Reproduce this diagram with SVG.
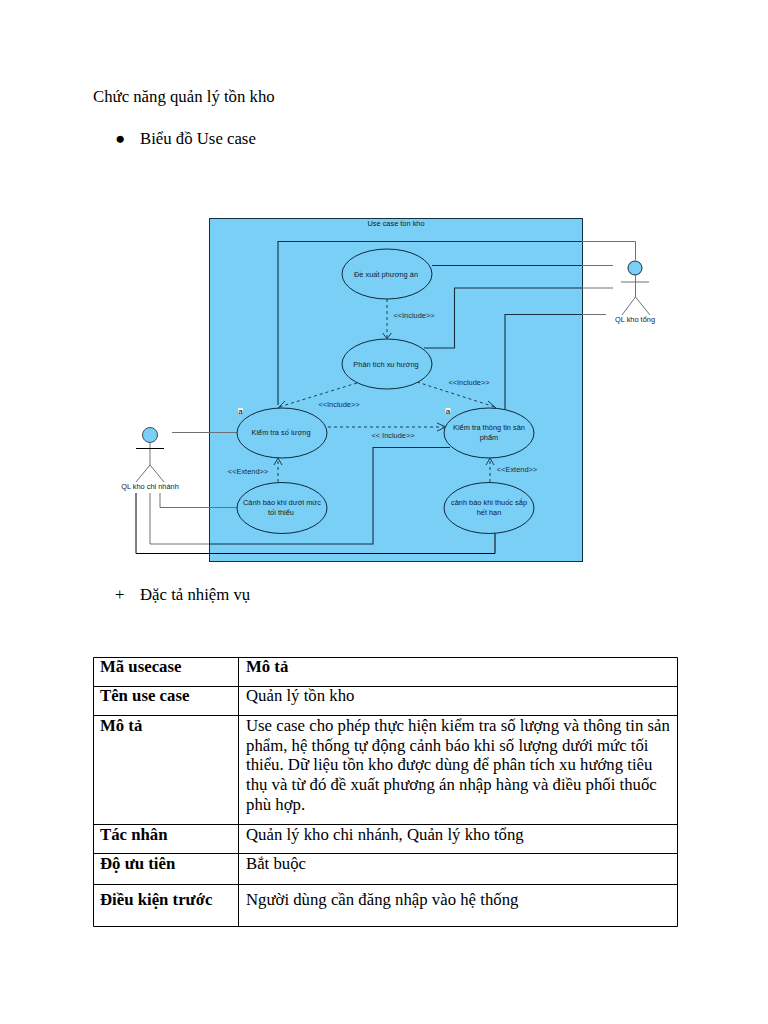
<svg xmlns="http://www.w3.org/2000/svg" width="768" height="1024" viewBox="0 0 768 1024">
<style>
.d{font-family:"Liberation Serif","Noto Serif",serif;font-size:16.75px;fill:#000}
.b{font-weight:bold}
.s{font-family:"Liberation Sans",Arial,sans-serif;font-size:7.4px;fill:#14202a;text-anchor:middle}
.l{font-family:"Liberation Sans",Arial,sans-serif;font-size:7.4px;fill:#1a2a3a;text-anchor:middle}
.uc{fill:#7acff6;stroke:#0e2a3c;stroke-width:1}
.w{fill:none;stroke:#14303f;stroke-width:1.1}
.g{fill:none;stroke:#6a7276;stroke-width:1}
.k{fill:none;stroke:#000;stroke-width:1}
.da{fill:none;stroke:#14405a;stroke-width:1;stroke-dasharray:3 3}
.ah{fill:none;stroke:#14303f;stroke-width:.9}
.t{fill:none;stroke:#000;stroke-width:1}
</style>
<text class="d" x="93" y="102">Chức năng quản lý tồn kho</text>
<text class="d" x="115" y="144">●</text>
<text class="d" x="140" y="144">Biểu đồ Use case</text>
<g id="package">
<rect x="209.500" y="218.500" width="373" height="343" fill="#7acff6" stroke="#12303f" stroke-width="1"/>
<text class="s" x="396" y="226">Use case tồn kho</text>
</g>
<g id="connectors">
<path class="w" d="M278 405V241.500H582"/>
<path class="g" d="M582 241.500H635.500V260"/>
<path class="w" d="M432 265.500H582"/>
<path class="g" d="M582 265.500H613"/>
<path class="w" d="M424 348H454.500V288H582"/>
<path class="g" d="M582 288H613"/>
<path class="w" d="M505 410V314.500H582"/>
<path class="g" d="M582 314.500H606"/>
<path class="g" d="M172 432.500H237"/>
<path class="g" d="M160 493V507.500H238"/>
<path class="g" d="M150 493V544H209"/>
<path class="w" d="M209 544H373V447.500H450"/>
<path class="k" d="M136 493V553.500H209"/>
<path class="k" d="M209 553.500H495V532"/>
<path class="da" d="M387 299V338" stroke-width="1.300"/>
<path class="ah" d="M382.500 333L387 338.500L391.500 333"/>
<path class="da" d="M357 383L279 407"/>
<path class="ah" d="M285 401L278 408L287 409"/>
<path class="da" d="M417 382L495 407"/>
<path class="ah" d="M488 401L496 408L487 409"/>
<path class="da" d="M328 427H444"/>
<path class="ah" d="M437 423L446 427L437 431"/>
<path class="da" d="M278 482V459"/>
<path class="ah" d="M274 465L278 458L282 465"/>
<path class="da" d="M490 482V459"/>
<path class="ah" d="M486 465L490 458L494 465"/>
</g>
<g id="uc-dexuat"><ellipse class="uc" cx="387" cy="274" rx="45" ry="25"/><text class="s" x="386" y="277">Đề xuất phương án</text></g>
<g id="uc-phantich"><ellipse class="uc" cx="387" cy="364" rx="45" ry="25"/><text class="s" x="386" y="367">Phân tích xu hướng</text></g>
<g id="uc-kiemtra"><ellipse class="uc" cx="282" cy="433" rx="45" ry="25"/><text class="s" x="281" y="435">Kiểm tra số lượng</text></g>
<g id="uc-thongtin"><ellipse class="uc" cx="489" cy="433" rx="45" ry="25"/><text class="s" x="489" y="430">Kiểm tra thông tin sản</text><text class="s" x="489" y="440">phẩm</text></g>
<g id="uc-canhbao1"><ellipse class="uc" cx="282" cy="508" rx="45" ry="25.500"/><text class="s" x="282" y="505">Cảnh báo khi dưới mức</text><text class="s" x="281" y="515">tối thiểu</text></g>
<g id="uc-canhbao2"><ellipse class="uc" cx="489" cy="508" rx="45" ry="25.500"/><text class="s" x="489" y="505">cảnh báo khi thuốc sắp</text><text class="s" x="489" y="515">hết hạn</text></g>
<g id="labels">
<text class="l" x="414" y="318">&lt;&lt;Include&gt;&gt;</text>
<text class="l" x="339" y="407">&lt;&lt;Include&gt;&gt;</text>
<text class="l" x="469" y="385">&lt;&lt;Include&gt;&gt;</text>
<text class="l" x="393" y="438">&lt;&lt; Include&gt;&gt;</text>
<text class="l" x="248" y="474">&lt;&lt;Extend&gt;&gt;</text>
<text class="l" x="517" y="472">&lt;&lt;Extend&gt;&gt;</text>
<rect x="238" y="408" width="5" height="6" fill="#e8f6fd"/>
<rect x="445.500" y="408" width="5" height="6" fill="#e8f6fd"/>
<text class="l" x="240.500" y="414" style="font-size:8px;fill:#000">a</text>
<text class="l" x="448" y="414" style="font-size:8px;fill:#000">a</text>
</g>
<g id="actor-tong">
<circle cx="635" cy="268" r="7" fill="#7acff6" stroke="#14303f"/>
<path class="g" stroke="#333" d="M635.500 275V297M621 282H649M635.500 297L622 315M635.500 297L650 315"/>
<text class="s" x="635" y="322">QL kho tổng</text>
</g>
<g id="actor-chinhanh">
<circle cx="150" cy="435" r="7.500" fill="#7acff6" stroke="#3a5060"/>
<path class="g" d="M150 443V465M150 465L136 482M150 465L164 482"/>
<path class="k" d="M136 448.500H164"/>
<text class="s" x="150" y="489">QL kho chi nhánh</text>
</g>
<text class="d" x="115" y="600">+</text>
<text class="d" x="140" y="600">Đặc tả nhiệm vụ</text>
<g id="table">
<path class="t" d="M93.500 657.500H677.500V926.500H93.500ZM238.500 657.500V926.500M93.500 686.500H677.500M93.500 715.500H677.500M93.500 824.500H677.500M93.500 853.500H677.500M93.500 884.500H677.500"/>
<text class="d b" x="100" y="672">Mã usecase</text><text class="d b" x="246" y="672">Mô tả</text>
<text class="d b" x="100" y="701">Tên use case</text><text class="d" x="246" y="701">Quản lý tồn kho</text>
<text class="d b" x="100" y="731">Mô tả</text>
<text class="d" x="246" y="731">Use case cho phép thực hiện kiểm tra số lượng và thông tin sản</text>
<text class="d" x="246" y="751">phẩm, hệ thống tự động cảnh báo khi số lượng dưới mức tối</text>
<text class="d" x="246" y="770">thiểu. Dữ liệu tồn kho được dùng để phân tích xu hướng tiêu</text>
<text class="d" x="246" y="790">thụ và từ đó đề xuất phương án nhập hàng và điều phối thuốc</text>
<text class="d" x="246" y="810">phù hợp.</text>
<text class="d b" x="100" y="840">Tác nhân</text><text class="d" x="246" y="840">Quản lý kho chi nhánh, Quản lý kho tổng</text>
<text class="d b" x="100" y="869">Độ ưu tiên</text><text class="d" x="246" y="869">Bắt buộc</text>
<text class="d b" x="100" y="905">Điều kiện trước</text><text class="d" x="246" y="905">Người dùng cần đăng nhập vào hệ thống</text>
</g>
</svg>
